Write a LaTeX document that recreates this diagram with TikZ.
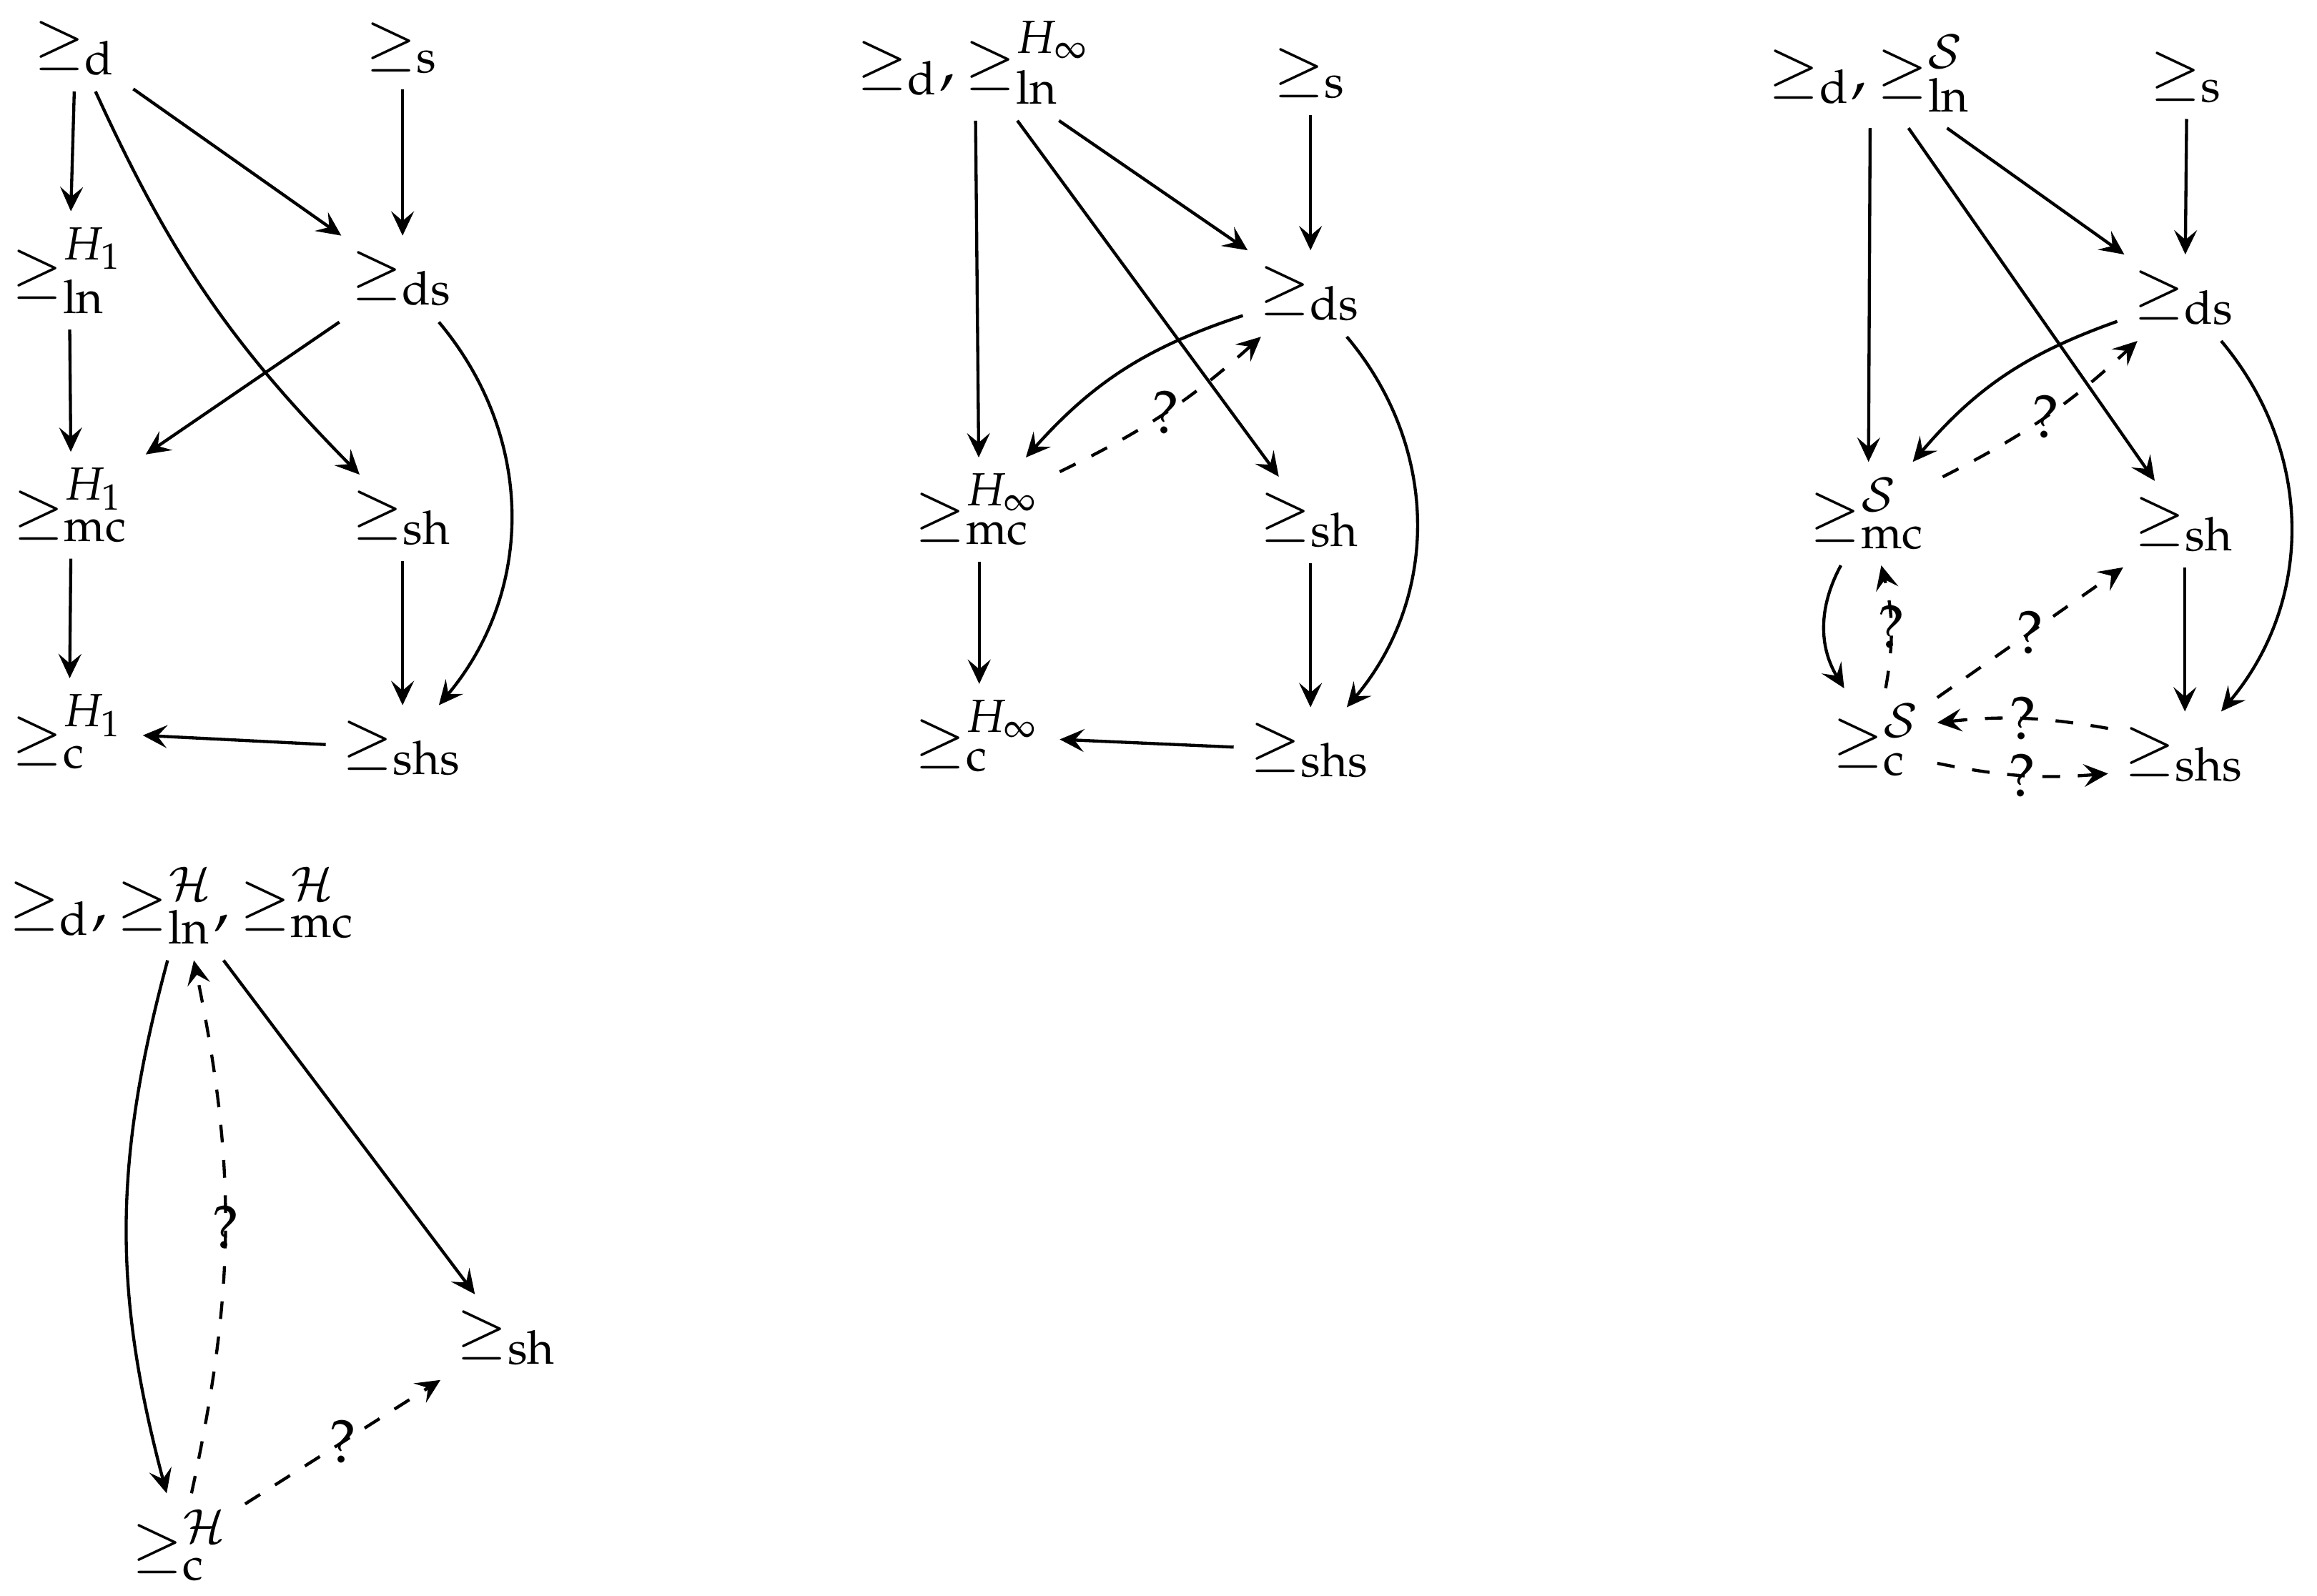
\documentclass[tikz,border=0pt]{standalone}
\usepackage[T1]{fontenc}
\usepackage{mathpazo}
\usepackage{amsmath}
\usetikzlibrary{arrows.meta}
\tikzstyle{rel}=[shape=rectangle, inner sep=2pt, font=\fontsize{8.3}{10}\selectfont]
\tikzstyle{arr}=[-{Stealth[length=3.3pt, width=3.1pt, inset=1.3pt]}, draw=black, line width=0.42pt]
\tikzstyle{qarr}=[-{Stealth[length=3.3pt, width=3.1pt, inset=1.3pt]}, draw=black, line width=0.42pt, dash pattern=on 2.4pt off 2.4pt]

\begin{document}
\begin{tikzpicture}
	\useasboundingbox (0, 0) rectangle (11.05, -7.61);
	% H_1
	\node [style=rel] (0) at (0.36, -0.23) {$\geq_{\mathrm{d}}$};
	\node [style=rel] (1) at (1.92, -0.23) {$\geq_{\mathrm{s}}$};
	\node [style=rel] (2) at (0.33, -1.29) {$\geq^{H_1}_{\mathrm{ln}}$};
	\node [style=rel] (3) at (1.92, -1.33) {$\geq_{\mathrm{ds}}$};
	\node [style=rel] (4) at (0.34, -2.41) {$\geq^{H_1}_{\mathrm{mc}}$};
	\node [style=rel] (5) at (1.92, -2.47) {$\geq_{\mathrm{sh}}$};
	\node [style=rel] (6) at (0.33, -3.49) {$\geq^{H_1}_{\mathrm{c}}$};
	\node [style=rel] (7) at (1.92, -3.57) {$\geq_{\mathrm{shs}}$};
	% H_infty
	\node [style=rel] (8) at (4.65, -0.30) {$\geq_{\mathrm{d}}, \geq^{H_\infty}_{\mathrm{ln}}$};
	\node [style=rel] (9) at (6.25, -0.35) {$\geq_{\mathrm{s}}$};
	\node [style=rel] (10) at (6.25, -1.40) {$\geq_{\mathrm{ds}}$};
	\node [style=rel] (11) at (4.67, -2.43) {$\geq^{H_\infty}_{\mathrm{mc}}$};
	\node [style=rel] (12) at (6.25, -2.48) {$\geq_{\mathrm{sh}}$};
	\node [style=rel] (13) at (4.67, -3.51) {$\geq^{H_\infty}_{\mathrm{c}}$};
	\node [style=rel] (14) at (6.25, -3.58) {$\geq_{\mathrm{shs}}$};
	% S
	\node [style=rel] (15) at (8.92, -0.35) {$\geq_{\mathrm{d}}, \geq^{\mathcal{S}}_{\mathrm{ln}}$};
	\node [style=rel] (16) at (10.43, -0.37) {$\geq_{\mathrm{s}}$};
	\node [style=rel] (17) at (10.42, -1.42) {$\geq_{\mathrm{ds}}$};
	\node [style=rel] (18) at (8.91, -2.45) {$\geq^{\mathcal{S}}_{\mathrm{mc}}$};
	\node [style=rel] (19) at (10.42, -2.50) {$\geq_{\mathrm{sh}}$};
	\node [style=rel] (20) at (8.95, -3.53) {$\geq^{\mathcal{S}}_{\mathrm{c}}$};
	\node [style=rel] (21) at (10.42, -3.60) {$\geq_{\mathrm{shs}}$};
	% H
	\node [style=rel] (22) at (0.87, -4.32) {$\geq_{\mathrm{d}}, \geq^{\mathcal{H}}_{\mathrm{ln}}, \geq^{\mathcal{H}}_{\mathrm{mc}}$};
	\node [style=rel] (23) at (2.42, -6.38) {$\geq_{\mathrm{sh}}$};
	\node [style=rel] (24) at (0.86, -7.37) {$\geq^{\mathcal{H}}_{\mathrm{c}}$};

	\draw [style=arr] (0) to (2);
	\draw [style=arr] (0) to (3);
	\draw [style=arr, bend right=10] (0) to (5);
	\draw [style=arr] (1) to (3);
	\draw [style=arr] (2) to (4);
	\draw [style=arr] (3) to (4);
	\draw [style=arr, bend left=40] (3) to (7);
	\draw [style=arr] (5) to (7);
	\draw [style=arr] (4) to (6);
	\draw [style=arr] (7) to (6);

	\draw [style=arr] (8) to (11);
	\draw [style=arr] (8) to (12);
	\draw [style=arr] (8) to (10);
	\draw [style=arr] (9) to (10);
	\draw [style=arr, bend right=15] (10) to (11);
	\draw [style=qarr, bend right=8] (11) to node[font=\fontsize{8.3}{10}\selectfont] {?} (10);
	\draw [style=arr, bend left=40] (10) to (14);
	\draw [style=arr] (12) to (14);
	\draw [style=arr] (11) to (13);
	\draw [style=arr] (14) to (13);

	\draw [style=arr] (15) to (18);
	\draw [style=arr] (15) to (19);
	\draw [style=arr] (15) to (17);
	\draw [style=arr] (16) to (17);
	\draw [style=arr, bend right=15] (17) to (18);
	\draw [style=qarr, bend right=8] (18) to node[font=\fontsize{8.3}{10}\selectfont] {?} (17);
	\draw [style=arr, bend left=40] (17) to (21);
	\draw [style=arr] (19) to (21);
	\draw [style=arr, bend right=30] (18) to (20);
	\draw [style=qarr, bend right=12] (20) to node[font=\fontsize{8.3}{10}\selectfont] {?} (18);
	\draw [style=qarr] (20) to node[font=\fontsize{8.3}{10}\selectfont] {?} (19);
	\draw [style=qarr, bend right=8, transform canvas={yshift=1.6pt}] (21) to node[font=\fontsize{8.3}{10}\selectfont] {?} (20);
	\draw [style=qarr, bend right=8, transform canvas={yshift=-1.6pt}] (20) to node[font=\fontsize{8.3}{10}\selectfont] {?} (21);

	\draw [style=arr, bend right=15] (22) to (24);
	\draw [style=qarr, bend right=12] (24) to node[font=\fontsize{8.3}{10}\selectfont] {?} (22);
	\draw [style=arr] (22) to (23);
	\draw [style=qarr] (24) to node[font=\fontsize{8.3}{10}\selectfont] {?} (23);
\end{tikzpicture}
\end{document}
